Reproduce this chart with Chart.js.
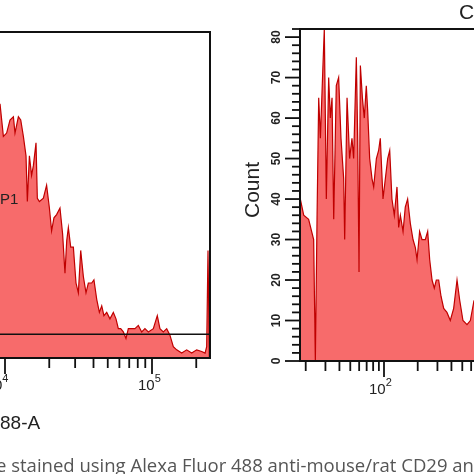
<!DOCTYPE html>
<html><head><meta charset="utf-8">
<script src="https://cdn.jsdelivr.net/npm/chart.js@4"></script>
<style>
body{margin:0;width:474px;height:474px;overflow:hidden;position:relative;background:#fff;font-family:Arial,"Liberation Sans",sans-serif}
canvas{position:absolute}
.t{position:absolute;white-space:nowrap;color:#222}
sup{font-size:11px;position:relative;top:-2px}
</style></head><body>
<canvas id="c1" style="left:-100px;top:0;width:312px;height:474px" width="312" height="474"></canvas>
<canvas id="c2" style="left:240px;top:0;width:260px;height:474px" width="260" height="474"></canvas>
<div class="t" style="left:0;top:190px;font-size:15px">P1</div>
<div class="t" style="left:-6px;top:374px;font-size:15px">0<sup>4</sup></div>
<div class="t" style="left:138px;top:374px;font-size:15px">10<sup>5</sup></div>
<div class="t" style="left:0;top:412px;font-size:19px">88-A</div>
<div class="t" style="left:369px;top:378px;font-size:15px">10<sup>2</sup></div>
<div class="t" style="left:222px;top:178px;font-size:21px;transform:rotate(-90deg);transform-origin:50% 50%;width:60px;text-align:center">Count</div>
<div class="t" style="left:459px;top:0px;font-size:21px">C</div>
<div class="t" style="left:-4px;top:452px;font-size:18.5px;color:#555;font-family:'Open Sans',sans-serif">e stained using Alexa Fluor 488 anti-mouse/rat CD29 an</div>
<script>
// Left histogram (x in log10 units)
const leftX=[3.966,3.989,4.011,4.034,4.057,4.068,4.091,4.107,4.125,4.143,4.152,4.166,4.181,4.193,4.211,4.220,4.234,4.261,4.283,4.302,4.317,4.333,4.351,4.374,4.392,4.408,4.420,4.431,4.447,4.465,4.483,4.499,4.515,4.533,4.551,4.567,4.590,4.605,4.624,4.642,4.658,4.673,4.692,4.714,4.737,4.755,4.771,4.787,4.805,4.823,4.839,4.862,4.884,4.907,4.930,4.952,4.975,5.009,5.036,5.054,5.077,5.100,5.122,5.145,5.168,5.202,5.236,5.270,5.304,5.338,5.361,5.372,5.381,5.390];
const leftY=[78,68,69,73,74,69,74,73,68,62,48,62,56,59,66,49,48,49,53,46,39,43,44,46,38,26,36,40,34,34,23,20,33,25,20,23,23,24,18,14,16,13,14,12,14,12,9,9,8,6,9,9,9,10,8,9,8,9,13,9,8,9,7,3.5,2.5,1.5,2.5,1.5,2.5,2,1.5,3.5,33,0];
const gateY=7.3;
const leftMajor=[3,4,5];
// Right histogram
const rightX=[1.253,1.283,1.327,1.372,1.387,1.402,1.417,1.432,1.455,1.467,1.485,1.506,1.521,1.536,1.551,1.574,1.595,1.616,1.640,1.649,1.670,1.693,1.714,1.729,1.753,1.765,1.777,1.789,1.807,1.824,1.842,1.854,1.872,1.893,1.908,1.932,1.952,1.967,1.991,2.012,2.033,2.051,2.071,2.092,2.116,2.131,2.146,2.170,2.190,2.211,2.235,2.259,2.280,2.295,2.318,2.339,2.369,2.390,2.408,2.429,2.449,2.467,2.488,2.509,2.533,2.562,2.592,2.622,2.652,2.676,2.705,2.741,2.771,2.804];
const rightY=[40,36,35,30,0,35,65,55,73,82,40,70,60,65,35,68,70,55,45,30,65,50,55,50,75,55,22,73,65,60,68,62,50,45,43,50,52,55,40,45,50,52,40,36,43,33,36,32,38,40,34,30,28,25,32,30,30,32,25,20,18,20,20,16,13,12,10,13,20,15,10,9,10,15];
const rightMajor=[1,2,3];
const yTicks=[0,10,20,30,40,50,60,70,80];

const FILL='#f76b6b', LINE='#c00000';
function mkPlugin(opts){return {id:'axes',afterDatasetsDraw(ch){
  const c=ch.ctx,a=ch.chartArea,xs=ch.scales.x,ys=ch.scales.y;c.save();
  c.strokeStyle='#111';c.lineWidth=1.6;
  if(opts.gate!=null){const gy=ys.getPixelForValue(opts.gate);c.beginPath();c.moveTo(a.left,gy);c.lineTo(a.right,gy);c.stroke();}
  c.lineWidth=2;c.strokeRect(a.left,a.top,a.right-a.left,a.bottom-a.top);
  c.lineWidth=1.8;
  const maj=opts.major, mins=[];maj.forEach(n=>{for(let k=2;k<10;k++)mins.push(n+Math.log10(k));});
  const tick=(v,l)=>{const px=xs.getPixelForValue(v);if(px<a.left-1||px>a.right+1)return;c.beginPath();c.moveTo(px,a.bottom);c.lineTo(px,a.bottom+l);c.stroke();};
  maj.forEach(v=>tick(v,16));mins.forEach(v=>tick(v,10));
  if(opts.yt){for(let v=0;v<=82;v+=2){const py=ys.getPixelForValue(v);c.beginPath();c.moveTo(a.left,py);c.lineTo(a.left-(v%10===0?15:8),py);c.stroke();}
    c.fillStyle='#222';c.font='bold 12px Arial';c.textAlign='center';c.textBaseline='middle';
    yTicks.forEach(v=>{const py=ys.getPixelForValue(v);c.save();c.translate(a.left-23,py);c.rotate(-Math.PI/2);c.fillText(String(v),0,0);c.restore();});}
  c.restore();}};}
function mk(id,X,Y,xmin,xmax,ymax,top,bottom,left,opts){
  const pts=X.map((x,i)=>({x,y:Y[i]}));
  new Chart(document.getElementById(id),{type:'line',
    data:{datasets:[{data:pts,borderColor:LINE,backgroundColor:FILL,borderWidth:1.2,fill:'origin',pointRadius:0,tension:0}]},
    options:{responsive:false,animation:false,events:[],layout:{padding:{top:top,bottom:474-bottom,left:left,right:2}},
      plugins:{legend:{display:false},tooltip:{enabled:false}},
      scales:{x:{type:'linear',min:xmin,max:xmax,display:false},y:{min:0,max:ymax,display:false}}},
    plugins:[mkPlugin(opts)]});}
mk('c1',leftX,leftY,4+(-100-5)/147,4+(210-5)/147,100,32,358,0,{gate:gateY,major:leftMajor});
mk('c2',rightX,rightY,1.25,1.25+198/112,82,29,361,60,{major:rightMajor,yt:true});
</script></body></html>
